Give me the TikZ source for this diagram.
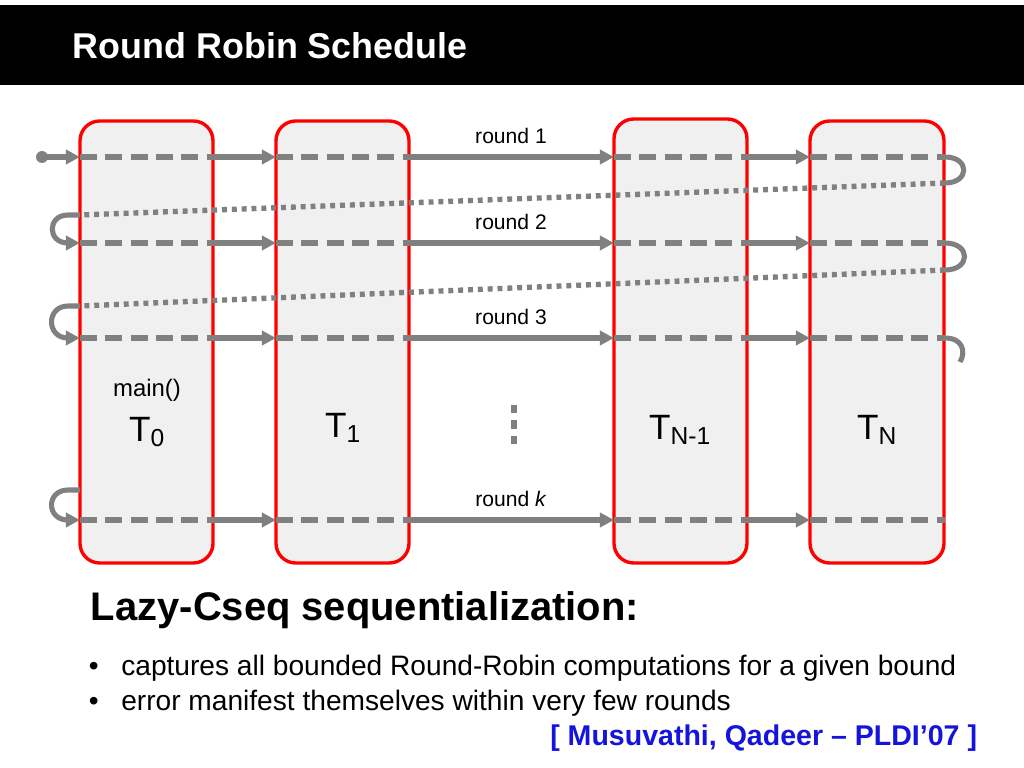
\documentclass[tikz,border=0pt]{standalone}
\usepackage{fontspec}
\setmainfont{Liberation Sans}
\usetikzlibrary{arrows.meta}
\definecolor{flowgray}{RGB}{128,128,128}
\definecolor{boxfill}{RGB}{240,240,240}
\definecolor{citeblue}{RGB}{20,20,220}
\begin{document}
\begin{tikzpicture}[x=0.025cm, y=-0.025cm,
  thread/.style={draw=red, line width=2.4pt, fill=boxfill, rounded corners=14pt},
  inside/.style={flowgray, line width=4pt, dash pattern=on 12pt off 6pt},
  between/.style={flowgray, line width=3.6pt, -{Triangle[length=10pt,width=10pt]}},
  back/.style={flowgray, line width=3.8pt, dash pattern=on 3.5pt off 3.5pt},
  loop/.style={flowgray, line width=3.6pt},
  lbl/.style={font=\fontsize{15}{17}\selectfont},
  tname/.style={font=\fontsize{25}{29}\selectfont}]
\useasboundingbox (0,0) rectangle (1024,768);
\fill[black] (0,5) rectangle (1024,85);
\node[anchor=west, white, font=\fontsize{25.5}{30}\selectfont\bfseries] (title) at (68,46) {Round Robin Schedule};

% threads
\draw[thread] (80,121) rectangle (213,563);
\draw[thread] (276,121) rectangle (409,563);
\draw[thread] (614,119) rectangle (747,563);
\draw[thread] (810,121) rectangle (944,563);

\node (main) at (147,390) {\fontsize{17}{20}\selectfont main()};
\node[tname] (t0) at (147,432) {T\textsubscript{0}};
\node[tname] (t1) at (343,428) {T\textsubscript{1}};
\node[tname] (tn1) at (680,430) {T\textsubscript{N-1}};
\node[tname] (tn) at (877,430) {T\textsubscript{N}};
\draw[flowgray, line width=4pt, dash pattern=on 6pt off 5pt] (514,405) -- (514,447);

% rounds
\foreach \y/\txt in {157/round 1, 243/round 2, 338/round 3, 520/{round \textit{k}}} {
  \coordinate (a0) at (80,\y);  \coordinate (b0) at (213,\y);
  \coordinate (a1) at (276,\y); \coordinate (b1) at (409,\y);
  \coordinate (a2) at (614,\y); \coordinate (b2) at (747,\y);
  \coordinate (a3) at (810,\y); \coordinate (b3) at (945,\y);
  \draw[inside] (a0) -- (b0);
  \draw[inside] (a1) -- (b1);
  \draw[inside] (a2) -- (b2);
  \draw[inside] (a3) -- (b3);
  \draw[between] (b0) -- (a1);
  \draw[between] (b1) -- (a2);
  \draw[between] (b2) -- (a3);
  \node[lbl] at (511,\y-21) {\txt};
}

% start
\fill[flowgray] (42,157) circle (6);
\draw[between] (42,157) -- (80,157);

% wrap-arounds
\draw[back] (945,183) -- (80,215);
\draw[back] (945,270) -- (80,306);
\draw[loop] (945,157) .. controls (970,157) and (970,183) .. (945,183);
\draw[loop] (945,243) .. controls (971,243) and (971,270) .. (945,270);
\draw[loop] (945,338) .. controls (963,338) and (966,352) .. (960,362);
\draw[loop, -{Triangle[length=10pt,width=10pt]}] (80,215) -- (68,215) .. controls (47,215) and (47,243) .. (68,243) -- (80,243);
\draw[loop, -{Triangle[length=10pt,width=10pt]}] (80,306) -- (68,306) .. controls (46,306) and (46,338) .. (68,338) -- (80,338);
\draw[loop, -{Triangle[length=10pt,width=10pt]}] (80,490) -- (68,490) .. controls (46,490) and (46,520) .. (68,520) -- (80,520);

% text
\node[anchor=west, font=\fontsize{28.4}{32}\selectfont\bfseries] (head) at (86,610) {Lazy-Cseq sequentialization:};
\node[anchor=west, font=\fontsize{20}{24}\selectfont] (p1) at (84,668) {•\hspace{16pt}captures all bounded Round-Robin computations for a given bound};
\node[anchor=west, font=\fontsize{20}{24}\selectfont] (p2) at (84,703) {•\hspace{16pt}error manifest themselves within very few rounds};
\node[anchor=east, citeblue, font=\fontsize{20.3}{24}\selectfont\bfseries] (cite) at (982,738) {[ Musuvathi, Qadeer – PLDI’07 ]};
\end{tikzpicture}
\end{document}
